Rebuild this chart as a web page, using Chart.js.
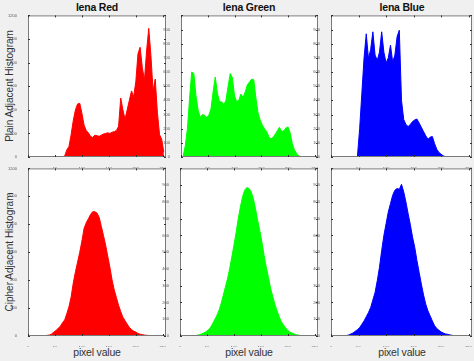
<!DOCTYPE html>
<html>
<head>
<meta charset="utf-8">
<script src="https://cdn.jsdelivr.net/npm/chart.js@4/dist/chart.umd.min.js"></script>
<style>
  html,body{margin:0;padding:0;background:#f0f0f0;}
  body{width:474px;height:361px;position:relative;overflow:hidden;font-family:"Liberation Sans",Arial,sans-serif;}
  .box{position:absolute;}
  .title{position:absolute;font-weight:bold;font-size:10.5px;letter-spacing:-0.2px;color:#111;text-align:center;width:160px;}
  .xlab{position:absolute;font-size:10.5px;letter-spacing:-0.2px;color:#333;text-align:center;width:140px;}
  .ylab{position:absolute;font-size:10px;color:#333;white-space:nowrap;transform-origin:center center;transform:translate(-50%,-50%) rotate(-90deg);}
</style>
</head>
<body>
<div class="title" style="left:17px;top:1px;">lena Red</div>
<div class="title" style="left:169px;top:1px;">lena Green</div>
<div class="title" style="left:322px;top:1px;">lena Blue</div>
<div class="ylab" style="left:9px;top:86px;">Plain Adjacent Histogram</div>
<div class="ylab" style="left:9px;top:252px;">Cipher Adjacent Histogram</div>
<div class="xlab" style="left:27px;top:346px;">pixel value</div>
<div class="xlab" style="left:179px;top:346px;">pixel value</div>
<div class="xlab" style="left:332px;top:346px;">pixel value</div>

<div class="box" id="b0"><canvas id="c0"></canvas></div>
<div class="box" id="b1"><canvas id="c1"></canvas></div>
<div class="box" id="b2"><canvas id="c2"></canvas></div>
<div class="box" id="b3"><canvas id="c3"></canvas></div>
<div class="box" id="b4"><canvas id="c4"></canvas></div>
<div class="box" id="b5"><canvas id="c5"></canvas></div>

<script>
// pixel-value bins (width 4)
const bins = [0,4,8,12,16,20,24,28,32,36,40,44,48,52,56,60,64,68,72,76,80,84,88,92,96,100,104,108,112,116,120,124,128,132,136,140,144,148,152,156,160,164,168,172,176,180,184,188,192,196,200,204,208,212,216,220,224,228,232,236,240,244,248,252];

const redPlain = [0,0,0,0,0,0,0,0,0,0,0,0,0,0,0,0,
  0,8,60,90,190,310,400,450,455,370,
  270,225,205,175,165,185,180,175,185,195,
  200,205,200,210,215,225,260,500,400,320,
  400,480,560,510,640,875,930,760,650,900,
  1090,860,560,660,380,190,150,40];

const greenPlain = [0,5,80,200,415,600,590,430,330,280,300,295,280,295,340,460,
  565,450,390,390,370,400,500,590,560,430,392,400,445,420,460,510,
  530,550,545,415,310,260,225,200,180,145,128,138,160,185,210,180,
  185,205,212,170,92,50,25,8,2,0,0,0,0,0,0,0];

const bluePlain = [0,0,0,0,0,0,0,0,0,0,0,0,
  5,200,450,700,870,695,760,884,720,683,740,884,740,665,700,790,670,720,850,895,
  400,265,230,215,230,250,262,268,240,210,180,150,125,140,145,95,55,32,19,8,2,
  0,0,0,0,0,0,0,0,0,0,0];

const redCipher = [0,0,0,0,0,
  1,2,2,3,5,7,15,28,40,55,70,95,115,160,210,280,380,460,530,600,680,770,810,840,870,
  890,890,880,850,785,720,650,570,490,400,330,275,220,175,135,110,85,62,46,35,28,18,13,10,7,5,4,3,2,1,1,0,0,0];

const greenCipher = [0,0,0,0,0,0,0,
  2,5,8,12,18,25,35,48,70,95,120,150,190,240,290,340,400,470,540,615,700,770,830,870,886,
  880,860,820,760,690,630,560,480,410,350,285,235,190,150,115,85,65,48,33,23,17,12,8,5,3,2,1,
  0,0,0,0,0];

const blueCipher = [0,0,0,0,0,0,0,
  3,6,12,18,28,38,50,70,90,115,140,170,215,260,330,410,510,600,670,740,790,840,870,880,875,
  905,860,800,730,665,590,530,450,380,310,245,190,150,120,90,62,45,34,24,18,12,10,6,4,2,1,
  0,0,0,0,0,0];

// y-axis tick settings per panel
const yMaxTop = [1200, 1000, 1000];
const yStepTop = [200, 100, 100];
const yMaxBottom = [1200, 1000, 1000];
const yStepBottom = [200, 100, 100];
const xTicks = [0, 50, 100, 150, 200, 250];

const colors = ['#ff0000', '#00ff00', '#0000ff'];

// panel plot rectangles [left, top, right, bottom]
const rects = [
  [28, 15, 166, 157], [181, 15, 318, 157], [331, 15, 472, 157],
  [28, 168, 166, 336], [180, 168, 318, 336], [331, 168, 472, 336]
];

const PADL = 20, PADT = 5, PADR = 6, PADB = 11;

const framePlugin = {
  id: 'frame',
  beforeDraw(chart) {
    const {ctx, chartArea: a} = chart;
    ctx.save();
    ctx.fillStyle = '#ffffff';
    ctx.fillRect(a.left, a.top, a.right - a.left, a.bottom - a.top);
    ctx.restore();
  },
  afterDatasetsDraw(chart) {
    const {ctx, chartArea: a, scales} = chart;
    const x = scales.x, y = scales.y;
    ctx.save();
    ctx.strokeStyle = '#7a7a7a';
    ctx.lineWidth = 1;
    ctx.strokeRect(a.left + 0.5, a.top + 0.5, a.right - a.left - 1, a.bottom - a.top - 1);
    ctx.strokeStyle = '#333';
    ctx.beginPath();
    x.ticks.forEach(t => {
      const px = Math.round(x.getPixelForValue(t.value)) + 0.5;
      ctx.moveTo(px, a.bottom); ctx.lineTo(px, a.bottom - 2);
      ctx.moveTo(px, a.top); ctx.lineTo(px, a.top + 2);
    });
    y.ticks.forEach(t => {
      const py = Math.round(y.getPixelForValue(t.value)) + 0.5;
      ctx.moveTo(a.left, py); ctx.lineTo(a.left + 2, py);
      ctx.moveTo(a.right, py); ctx.lineTo(a.right - 2, py);
    });
    ctx.stroke();
    ctx.restore();
  }
};

function makePanel(i, values, color, ymax, ystep, showXZero, showYTop) {
  const r = rects[i];
  const w = (r[2] - r[0]) + PADL + PADR;
  const h = (r[3] - r[1]) + PADT + PADB;
  const box = document.getElementById('b' + i);
  box.style.left = (r[0] - PADL) + 'px';
  box.style.top = (r[1] - PADT) + 'px';
  box.style.width = w + 'px';
  box.style.height = h + 'px';
  const cv = document.getElementById('c' + i);
  cv.width = w; cv.height = h;
  cv.style.width = w + 'px'; cv.style.height = h + 'px';
  const tickFont = {family: '"Liberation Sans", Arial, sans-serif', size: 4};
  new Chart(cv, {
    type: 'line',
    data: {
      datasets: [{
        data: bins.map((b, k) => ({x: b, y: values[k]})),
        borderColor: color,
        backgroundColor: color,
        borderWidth: 1,
        fill: 'origin',
        pointRadius: 0,
        tension: 0
      }]
    },
    options: {
      responsive: false,
      animation: false,
      devicePixelRatio: 1,
      layout: {padding: {left: 0, top: PADT, right: PADR, bottom: 0}},
      plugins: {legend: {display: false}, tooltip: {enabled: false}},
      scales: {
        x: {
          type: 'linear', min: 0, max: 256,
          grid: {display: false}, border: {display: false},
          afterBuildTicks: s => { s.ticks = xTicks.map(v => ({value: v})); },
          ticks: {
            font: tickFont, color: '#555', padding: 1, maxRotation: 0, autoSkip: false,
            callback: v => (v === 0 && !showXZero) ? '' : String(v)
          },
          afterFit: s => { s.height = PADB; }
        },
        y: {
          min: 0, max: ymax,
          grid: {display: false}, border: {display: false},
          ticks: {
            stepSize: ystep, font: tickFont, color: '#555', padding: 3,
            callback: v => (v === ymax && !showYTop) ? '' : String(v)
          },
          afterFit: s => { s.width = PADL; }
        }
      }
    },
    plugins: [framePlugin]
  });
}

makePanel(0, redPlain, colors[0], yMaxTop[0], yStepTop[0], false, true);
makePanel(1, greenPlain, colors[1], yMaxTop[1], yStepTop[1], false, false);
makePanel(2, bluePlain, colors[2], yMaxTop[2], yStepTop[2], false, false);
makePanel(3, redCipher, colors[0], yMaxBottom[0], yStepBottom[0], true, true);
makePanel(4, greenCipher, colors[1], yMaxBottom[1], yStepBottom[1], true, false);
makePanel(5, blueCipher, colors[2], yMaxBottom[2], yStepBottom[2], true, false);
</script>
</body>
</html>
